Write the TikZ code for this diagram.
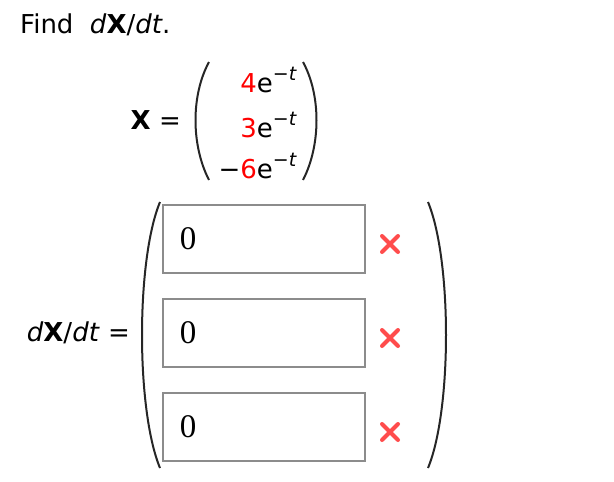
\documentclass[tikz,border=0pt]{standalone}
\usepackage{fontspec}
\setmainfont{DejaVu Sans}
\newfontfamily\serif{Liberation Serif}
\newcommand{\expt}{\raisebox{0.45em}{\fontsize{19}{20}\selectfont −\textit{t}}}
\begin{document}
\begin{tikzpicture}[x=1pt,y=-1pt,
  txt/.style={inner sep=0pt,font=\fontsize{26}{28}\selectfont},
  ans/.style={draw=gray!90,line width=1.3pt,minimum width=202pt,minimum height=68pt,inner sep=0pt},
  val/.style={inner sep=0pt,font=\serif\fontsize{33}{36}\selectfont},
  xmark/.style={red!70,line width=4pt,line cap=round},
  paren/.style={line width=2pt,black!85}]
\useasboundingbox (0,0) rectangle (614,482);
\node[txt,anchor=west] (find) at (20,25) {Find\ \ \textit{d}\textbf{X}/\textit{dt}.};
\node[txt,anchor=east] (xlab) at (181,120) {\textbf{X} =};
\node[txt,anchor=east] (r1) at (297,80) {\textcolor{red}{4}e\expt};
\node[txt,anchor=east] (r2) at (297,125) {\textcolor{red}{3}e\expt};
\node[txt,anchor=east] (r3) at (297,166) {−\textcolor{red}{6}e\expt};
\draw[paren] (209,62) .. controls (191,95) and (191,145) .. (209,180);
\draw[paren] (303,62) .. controls (321,95) and (321,145) .. (303,180);
\node[txt,anchor=east] (dlab) at (130,333) {\textit{d}\textbf{X}/\textit{dt} =};
\draw[paren] (160,202) .. controls (136,260) and (136,410) .. (160,468);
\draw[paren] (428,202) .. controls (452,260) and (452,410) .. (428,468);
\foreach \i/\y in {1/239,2/333,3/427}{
  \node[ans] (b\i) at (264,\y) {};
  \node[val] (v\i) at (188,\y) {0};
  \node (c\i) at (390,\y+5) {};
  \draw[xmark] ([shift={(-8,-8)}]c\i.center) -- ([shift={(8,8)}]c\i.center);
  \draw[xmark] ([shift={(-8,8)}]c\i.center) -- ([shift={(8,-8)}]c\i.center);
}
\end{tikzpicture}
\end{document}
